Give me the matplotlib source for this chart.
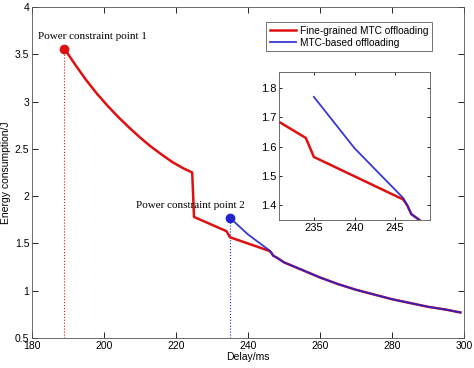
#!/usr/bin/env python3

import matplotlib
matplotlib.use("Agg")
import matplotlib.pyplot as plt

# Fine-grained MTC offloading (red)
fine_x = [189, 192, 195, 198, 201, 204, 207, 210, 213, 216, 219, 222, 224.5,
          225, 234, 235, 246, 246.5, 247, 248, 250, 255, 260, 265, 270, 275,
          280, 285, 290, 295, 299]
fine_y = [3.56, 3.39, 3.23, 3.085, 2.955, 2.835, 2.725, 2.62, 2.525, 2.44, 2.36, 2.295, 2.25,
          1.78, 1.63, 1.565, 1.42, 1.40, 1.37, 1.35, 1.30, 1.22, 1.14, 1.07, 1.01, 0.96,
          0.91, 0.87, 0.83, 0.80, 0.77]

# MTC-based offloading (blue)
mtc_x = [235, 240, 246, 246.5, 247, 248, 250, 255, 260, 265, 270, 275,
         280, 285, 290, 295, 299]
mtc_y = [1.77, 1.595, 1.425, 1.40, 1.37, 1.35, 1.30, 1.22, 1.14, 1.07, 1.01, 0.96,
         0.91, 0.87, 0.83, 0.80, 0.77]

point1 = (189, 3.56)
point2 = (235, 1.77)

RED = "#e01010"
BLUE = "#2222d0"

plt.rcParams["font.family"] = "Liberation Sans"

fig = plt.figure(figsize=(4.74, 3.68), dpi=100)
ax = fig.add_axes([32 / 474, 1 - 338 / 368, 432 / 474, 331 / 368])

ax.plot([point1[0], point1[0]], [0.5, point1[1]], color=RED, lw=0.8, ls=":")
ax.plot([point2[0], point2[0]], [0.5, point2[1]], color=BLUE, lw=0.8, ls=":")
ax.plot(fine_x, fine_y, color=RED, lw=1.8, label="Fine-grained MTC offloading")
ax.plot(mtc_x, mtc_y, color=BLUE, lw=1.3, alpha=0.9, label="MTC-based offloading")
ax.plot(*point1, "o", color=RED, ms=6)
ax.plot(*point2, "o", color=BLUE, ms=6)

ax.text(181.7, 3.69, "Power constraint point 1", family="Liberation Serif",
        fontsize=8, va="center", ha="left")
ax.text(208.9, 1.90, "Power constraint point 2", family="Liberation Serif",
        fontsize=8, va="center", ha="left")

ax.set_xlim(180, 300)
ax.set_ylim(0.5, 4)
ax.set_xticks([180, 200, 220, 240, 260, 280, 300])
ax.set_yticks([0.5, 1, 1.5, 2, 2.5, 3, 3.5, 4])
ax.set_yticklabels(["0.5", "1", "1.5", "2", "2.5", "3", "3.5", "4"])
ax.tick_params(direction="in", top=True, right=True, labelsize=7.5, length=4, width=0.6, pad=2)
for s in ax.spines.values():
    s.set_linewidth(0.6)
    s.set_color("#555555")
ax.set_xlabel("Delay/ms", fontsize=7.5, labelpad=1)
ax.set_ylabel("Energy consumption/J", fontsize=7.5, labelpad=3)

leg = ax.legend(loc="upper right", bbox_to_anchor=((432 - 32) / 432, (338 - 22) / 331),
                fontsize=7.3, frameon=True, fancybox=False, borderpad=0.35,
                handlelength=2.6, labelspacing=0.2, handletextpad=0.4, borderaxespad=0)
leg.get_frame().set_edgecolor("#333333")
leg.get_frame().set_linewidth(0.6)

# zoomed inset
ins = fig.add_axes([279 / 474, 1 - 220 / 368, 151 / 474, 148 / 368])
ins.plot(fine_x, fine_y, color=RED, lw=1.8)
ins.plot(mtc_x, mtc_y, color=BLUE, lw=1.3, alpha=0.9)
ins.set_xlim(230.7, 249.3)
ins.set_ylim(1.35, 1.855)
ins.set_xticks([235, 240, 245])
ins.set_yticks([1.4, 1.5, 1.6, 1.7, 1.8])
ins.tick_params(direction="in", top=True, right=True, labelsize=8, length=2, width=0.6, pad=2)
for s in ins.spines.values():
    s.set_linewidth(0.6)
    s.set_color("#555555")

fig.savefig("out.png", dpi=100)
